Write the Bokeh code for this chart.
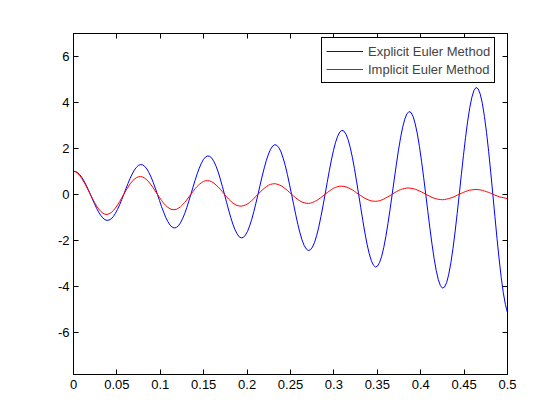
from bokeh.plotting import figure
from bokeh.models import Range1d, FixedTicker, LinearAxis, Legend, LegendItem, CustomJSTickFormatter
from bokeh.embed import file_html
from bokeh.resources import INLINE
import numpy as np

# time samples (0 .. 0.5 s)
t = np.linspace(0, 0.5, 208)

# values, one row per half period
explicit = [
    1.00, 0.99, 0.94, 0.85, 0.73, 0.58, 0.40, 0.21, 0.00, -0.21, -0.41, -0.61, -0.78, -0.92, -1.03, -1.11,
    -1.14, -1.12, -1.07, -0.97, -0.83, -0.66, -0.46, -0.23, 0.00, 0.24, 0.47, 0.69, 0.88, 1.05, 1.17, 1.26,
    1.29, 1.28, 1.21, 1.10, 0.94, 0.75, 0.52, 0.27, 0.00, -0.27, -0.54, -0.78, -1.01, -1.19, -1.34, -1.43,
    -1.47, -1.45, -1.38, -1.25, -1.07, -0.85, -0.59, -0.30, 0.00, 0.31, 0.61, 0.89, 1.14, 1.35, 1.52, 1.62,
    1.67, 1.65, 1.57, 1.42, 1.22, 0.97, 0.67, 0.34, 0.00, -0.35, -0.69, -1.01, -1.30, -1.54, -1.72, -1.85,
    -1.90, -1.88, -1.78, -1.62, -1.38, -1.10, -0.76, -0.39, 0.00, 0.40, 0.79, 1.15, 1.48, 1.75, 1.96, 2.10,
    2.16, 2.13, 2.02, 1.84, 1.57, 1.25, 0.87, 0.44, 0.00, -0.45, -0.89, -1.31, -1.68, -1.99, -2.23, -2.38,
    -2.45, -2.42, -2.30, -2.09, -1.79, -1.42, -0.98, -0.51, 0.00, 0.51, 1.02, 1.49, 1.91, 2.26, 2.53, 2.71,
    2.78, 2.75, 2.61, 2.37, 2.03, 1.61, 1.12, 0.57, 0.00, -0.58, -1.15, -1.69, -2.17, -2.57, -2.88, -3.08,
    -3.17, -3.13, -2.97, -2.70, -2.31, -1.83, -1.27, -0.65, 0.00, 0.66, 1.31, 1.92, 2.46, 2.92, 3.27, 3.50,
    3.60, 3.56, 3.38, 3.06, 2.63, 2.08, 1.44, 0.74, 0.00, -0.75, -1.49, -2.18, -2.80, -3.32, -3.72, -3.98,
    -4.09, -4.04, -3.84, -3.48, -2.98, -2.36, -1.64, -0.84, 0.00, 0.86, 1.70, 2.48, 3.18, 3.77, 4.22, 4.52,
    4.65, 4.59, 4.36, 3.96, 3.39, 2.69, 1.87, 0.96, 0.00, -0.97, -1.93, -2.82, -3.62, -4.29, -4.80, -5.16,
]

implicit = [
    1.00, 0.97, 0.91, 0.81, 0.68, 0.53, 0.36, 0.18, 0.00, -0.18, -0.35, -0.51, -0.64, -0.75, -0.82, -0.87,
    -0.88, -0.85, -0.80, -0.71, -0.60, -0.47, -0.32, -0.16, 0.00, 0.16, 0.31, 0.45, 0.56, 0.66, 0.72, 0.76,
    0.77, 0.75, 0.70, 0.62, 0.53, 0.41, 0.28, 0.14, 0.00, -0.14, -0.27, -0.39, -0.49, -0.57, -0.63, -0.67,
    -0.67, -0.66, -0.61, -0.55, -0.46, -0.36, -0.25, -0.12, 0.00, 0.12, 0.24, 0.34, 0.43, 0.50, 0.56, 0.59,
    0.59, 0.58, 0.54, 0.48, 0.40, 0.32, 0.22, 0.11, 0.00, -0.11, -0.21, -0.30, -0.38, -0.44, -0.49, -0.51,
    -0.52, -0.50, -0.47, -0.42, -0.36, -0.28, -0.19, -0.10, 0.00, 0.09, 0.18, 0.26, 0.33, 0.39, 0.43, 0.45,
    0.46, 0.44, 0.41, 0.37, 0.31, 0.24, 0.17, 0.08, 0.00, -0.08, -0.16, -0.23, -0.29, -0.34, -0.37, -0.39,
    -0.40, -0.39, -0.36, -0.32, -0.27, -0.21, -0.15, -0.07, 0.00, 0.07, 0.14, 0.20, 0.26, 0.30, 0.33, 0.35,
    0.35, 0.34, 0.32, 0.28, 0.24, 0.19, 0.13, 0.06, 0.00, -0.06, -0.12, -0.18, -0.22, -0.26, -0.29, -0.30,
    -0.31, -0.30, -0.28, -0.25, -0.21, -0.16, -0.11, -0.06, 0.00, 0.06, 0.11, 0.16, 0.20, 0.23, 0.25, 0.27,
    0.27, 0.26, 0.24, 0.22, 0.18, 0.14, 0.10, 0.05, 0.00, -0.05, -0.09, -0.14, -0.17, -0.20, -0.22, -0.23,
    -0.24, -0.23, -0.21, -0.19, -0.16, -0.13, -0.09, -0.04, 0.00, 0.04, 0.08, 0.12, 0.15, 0.18, 0.19, 0.20,
    0.21, 0.20, 0.19, 0.17, 0.14, 0.11, 0.08, 0.04, 0.00, -0.04, -0.07, -0.11, -0.13, -0.15, -0.17, -0.19,
]

x_ticks = [0, 0.05, 0.1, 0.15, 0.2, 0.25, 0.3, 0.35, 0.4, 0.45, 0.5]
y_ticks = [-6, -4, -2, 0, 2, 4, 6]

FONT = "Liberation Sans"

p = figure(
    width=548, height=408,
    x_range=Range1d(0, 0.5), y_range=Range1d(-7.85, 7),
    output_backend="svg", toolbar_location=None,
    min_border_left=73, min_border_right=41, min_border_top=33, min_border_bottom=34,
)
p.xgrid.visible = False
p.ygrid.visible = False
p.outline_line_color = "black"
p.outline_line_alpha = 1
p.background_fill_color = "white"
p.border_fill_color = "white"


def style_axis(ax, ticks, labels=True):
    ax.ticker = FixedTicker(ticks=ticks)
    if labels:
        ax.formatter = CustomJSTickFormatter(code="return tick.toString();")
    else:
        ax.formatter = CustomJSTickFormatter(code="return '';")
    ax.axis_line_color = "black"
    ax.major_tick_line_color = "black"
    ax.major_tick_in = 5
    ax.major_tick_out = 0
    ax.minor_tick_in = 0
    ax.minor_tick_out = 0
    ax.major_label_text_font = FONT
    ax.major_label_text_font_size = "13px"
    ax.major_label_text_color = "black"


style_axis(p.xaxis[0], x_ticks)
p.xaxis[0].major_label_standoff = 5
style_axis(p.yaxis[0], y_ticks)
p.yaxis[0].major_label_standoff = 4

# tick marks on the top and right side as well (box on)
top = LinearAxis()
style_axis(top, x_ticks, labels=False)
p.add_layout(top, "above")
right = LinearAxis()
style_axis(right, y_ticks, labels=False)
p.add_layout(right, "right")

r1 = p.line(t, explicit, color="#0000ff", line_width=1)
r2 = p.line(t, implicit, color="#ff0000", line_width=1)

legend = Legend(
    items=[
        LegendItem(label="Explicit Euler Method", renderers=[r1]),
        LegendItem(label="Implicit Euler Method", renderers=[r2]),
    ],
    location=(248, 291),
    border_line_color="black", border_line_alpha=1, border_line_width=1,
    background_fill_color="white", background_fill_alpha=1,
    padding=4, spacing=0, margin=0,
    label_height=18, glyph_height=18, glyph_width=37, label_standoff=5,
    label_text_font=FONT, label_text_font_size="13px",
)
p.add_layout(legend)

open("out.html", "w").write(file_html(p, INLINE))
